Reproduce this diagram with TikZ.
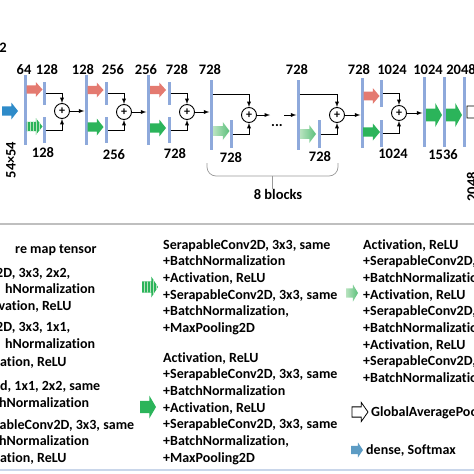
\documentclass[tikz,border=0pt]{standalone}
\usepackage{fontspec}
\setmainfont{Carlito}[Ligatures=NoCommon]
\usetikzlibrary{positioning}
\usetikzlibrary{calc}
\usetikzlibrary{patterns}
\definecolor{bar-blue}{HTML}{8EA9DB}
\definecolor{conv-red}{HTML}{E47A70}
\definecolor{sep-green}{HTML}{2BB45A}
\definecolor{mid-green-a}{HTML}{B8E3BF}
\definecolor{mid-green-b}{HTML}{5CC07C}
\definecolor{out-blue}{HTML}{2E8BC9}
\definecolor{key-blue}{HTML}{5D9CC4}
\definecolor{rule-gray}{HTML}{BFBFBF}
\definecolor{rule-blue}{HTML}{C9D6EA}
\colorlet{flow}{black}
\newcommand{\tikzfatarrow}[5][]{%
\pgfmathsetmacro{\arrowtail}{#2-#4/2}
\pgfmathsetmacro{\arrowneck}{#2+0.08*#4}
\pgfmathsetmacro{\arrowtip}{#2+#4/2}
\pgfmathsetmacro{\arrowshaft}{0.27*#5}
\pgfmathsetmacro{\arrowhead}{#5/2}
% shaft and head
\path[#1] (\arrowtail,#3-\arrowshaft) -- (\arrowneck,#3-\arrowshaft) -- (\arrowneck,#3-\arrowhead) -- (\arrowtip,#3) -- (\arrowneck,#3+\arrowhead) -- (\arrowneck,#3+\arrowshaft) -- (\arrowtail,#3+\arrowshaft) -- cycle;
}
\newcommand{\tikzlegendlines}[4]{%
\foreach \legendline [count=\i] in {#4} {
  \node[legendtext] (#1\i) at (#2, #3+16.7*\i-16.7) {\legendline};
}
}

\begin{document}
\begin{tikzpicture}[x=1pt, y=-1pt,
  tallbar/.style={fill=bar-blue, minimum width=3pt, minimum height=70pt, inner sep=0pt},
  shortbar/.style={fill=bar-blue, minimum width=3pt, inner sep=0pt},
  sumnode/.style={circle, draw=flow, line width=0.9pt, minimum size=15pt, inner sep=0pt, font=\bfseries\fontsize{12}{12}\selectfont},
  flowline/.style={draw=flow, line width=0.9pt, -latex},
  dimlabel/.style={font=\bfseries\fontsize{14.5}{14.5}\selectfont, inner sep=0pt},
  legendtext/.style={font=\bfseries\fontsize{14}{16.7}\selectfont, anchor=base west, inner sep=0pt},
  striped/.style={fill=sep-green, postaction={pattern=vertical lines, pattern color=mid-green-a}},
  faded/.style={left color=mid-green-a, right color=mid-green-b}]
\useasboundingbox (0,0) rectangle (474,474);
\clip (0,0) rectangle (474,474);

% input
\node[dimlabel] (two) at (3,48) {2};
\tikzfatarrow[fill=out-blue]{10}{111}{16}{17}
\node[dimlabel, rotate=90] (insize) at (11,160) {54×54};

% entry flow
\node[tallbar] (b1) at (25,110) {};
\tikzfatarrow[fill=conv-red]{34.5}{89.5}{16}{15}
\tikzfatarrow[striped]{34.5}{126.5}{16}{17}
\node[shortbar, minimum height=23pt] (top1) at (44,93.5) {};
\node[shortbar, minimum height=26pt] (bot1) at (44,130) {};
\node[sumnode] (sum1) at (62,111) {+};

\node[tallbar] (b2) at (86,110) {};
\tikzfatarrow[fill=conv-red]{95.5}{90}{16}{15}
\tikzfatarrow[fill=sep-green]{95.5}{127}{16}{17}
\node[shortbar, minimum height=23pt] (top2) at (106,93.5) {};
\node[shortbar, minimum height=26pt] (bot2) at (106,130) {};
\node[sumnode] (sum2) at (124,112) {+};

\node[tallbar] (b3) at (148,110) {};
\tikzfatarrow[fill=conv-red]{158}{90}{16}{15}
\tikzfatarrow[fill=sep-green]{158}{128}{16}{17}
\node[shortbar, minimum height=23pt] (top3) at (169,93.5) {};
\node[shortbar, minimum height=26pt] (bot3) at (169,130) {};
\node[sumnode] (sum3) at (187,112) {+};

% middle flow
\node[tallbar] (b4) at (211,115) {};
\tikzfatarrow[faded]{221.5}{131}{16}{18}
\node[shortbar, minimum height=28pt] (bot4) at (231,134) {};
\node[sumnode] (sum4) at (249,115) {+};
\coordinate (gap1) at (270,115);
\node[dimlabel, anchor=base] (dots) at (277,126) {...};
\coordinate (gap2) at (284,115);

\node[tallbar] (b5) at (298,115) {};
\tikzfatarrow[faded]{308}{134}{16}{18}
\node[shortbar, minimum height=28pt] (bot5) at (319,134) {};
\node[sumnode] (sum5) at (337,115) {+};

% exit flow
\node[tallbar] (b6) at (362,113) {};
\tikzfatarrow[fill=conv-red]{371.5}{96}{16}{16}
\tikzfatarrow[fill=sep-green]{371.5}{132}{17}{17}
\node[shortbar, minimum height=27pt] (top6) at (381,93.5) {};
\node[shortbar, minimum height=27pt] (bot6) at (381,133.5) {};
\node[sumnode] (sum6) at (399,113) {+};

\node[tallbar] (b7) at (424,112) {};
\tikzfatarrow[fill=sep-green]{434}{115}{16}{24}
\node[tallbar] (b8) at (444,112) {};
\tikzfatarrow[fill=sep-green]{454}{115}{16}{24}
\node[tallbar] (b9) at (464,112) {};
\tikzfatarrow[draw=flow, fill=white, line width=0.8pt]{478}{112}{22}{22}

% connectors
\foreach \n in {1,2,3,6} {
  \draw[flowline] (top\n.east) -| (sum\n.north);
  \draw[flowline] (bot\n.east) -| (sum\n.south);
}
\foreach \n in {4,5} {
  \draw[flowline] ([yshift=-15pt]b\n.north east) -| (sum\n.north);
  \draw[flowline] (bot\n.east) -| (sum\n.south);
}
\draw[flowline] (sum1.east) -- (sum1.east -| b2.west);
\draw[flowline] (sum2.east) -- (sum2.east -| b3.west);
\draw[flowline] (sum3.east) -- (sum3.east -| b4.west);
\draw[flowline] (sum4.east) -- (gap1);
\draw[flowline] (gap2) -- (gap2 -| b5.west);
\draw[flowline] (sum5.east) -- (sum5.east -| b6.west);
\draw[flowline] (sum6.east) -- (sum6.east -| b7.west);

% channel counts
\foreach \x/\c in {24/64,47/128,83/128,113/256,146/256,177/728,210/728,297/728,359/728,392/1024,428/1024,461/2048} {
  \node[dimlabel] (up\x) at (\x,70) {\c};
}
\foreach \x/\y/\c in {43/153/128,114/155/256,175/154/728,231/158/728,320/157/728,393/154/1024,443/155/1536} {
  \node[dimlabel] (down\x) at (\x,\y) {\c};
}
\node[dimlabel, rotate=90] (outsize) at (472,187) {2048};

% 8 blocks brace
\draw[rule-gray!80!black, line width=0.7pt, rounded corners=9pt] (207,163) -- (207,176) -- (338,176) -- (338,163);
\node[dimlabel] (blocks) at (278,194) {8 blocks};
\draw[rule-gray!80!black, line width=0.7pt] (272,176) -- (blocks.north -| 272,0);

% key
\draw[rule-gray, line width=1.2pt] (0,224) -- (474,224);
\draw[rule-blue, line width=2pt] (0,470) -- (474,470);

\node[legendtext] (k1) at (15,253) {re map tensor};
\node[legendtext] (k2) at (-4,277) {2D, 3x3, 2x2,};
\node[legendtext] (k3) at (5,293.5) {hNormalization};
\node[legendtext] (k4) at (-1.5,310) {vation, ReLU};
\node[legendtext] (k5) at (-4,331) {2D, 3x3, 1x1,};
\node[legendtext] (k6) at (5,348) {hNormalization};
\node[legendtext] (k7) at (0,366) {ation, ReLU};
\node[legendtext] (k8) at (0,390) {d, 1x1, 2x2, same};
\node[legendtext] (k9) at (-1,407) {hNormalization};
\node[legendtext] (k10) at (-0.5,429) {ableConv2D, 3x3, same};
\node[legendtext] (k11) at (-1,445.7) {hNormalization};
\node[legendtext] (k12) at (0,462.4) {ation, ReLU};

\tikzfatarrow[striped]{150}{287}{16}{21}
\tikzlegendlines{pool}{163}{249}{{SerapableConv2D, 3x3, same},{+BatchNormalization},{+Activation, ReLU},{+SerapableConv2D, 3x3, same},{+BatchNormalization,},{+MaxPooling2D}}
\tikzfatarrow[fill=sep-green]{148}{407}{16}{23}
\tikzlegendlines{act}{163}{362}{{Activation, ReLU},{+SerapableConv2D, 3x3, same},{+BatchNormalization},{+Activation, ReLU},{+SerapableConv2D, 3x3, same},{+BatchNormalization,},{+MaxPooling2D}}

\tikzfatarrow[faded]{352}{293}{12}{17}
\tikzlegendlines{mid}{363}{249}{{Activation, ReLU},{+SerapableConv2D,},{+BatchNormalization},{+Activation, ReLU},{+SerapableConv2D,},{+BatchNormalization},{+Activation, ReLU},{+SerapableConv2D,},{+BatchNormalization}}
\tikzfatarrow[draw=flow, fill=white, line width=0.8pt]{360}{412}{16}{19}
\node[legendtext] (gap) at (371,416) {GlobalAveragePoo};
\tikzfatarrow[fill=key-blue]{357}{450}{12}{15}
\node[legendtext] (dense) at (366,454) {dense, Softmax};
\end{tikzpicture}
\end{document}
